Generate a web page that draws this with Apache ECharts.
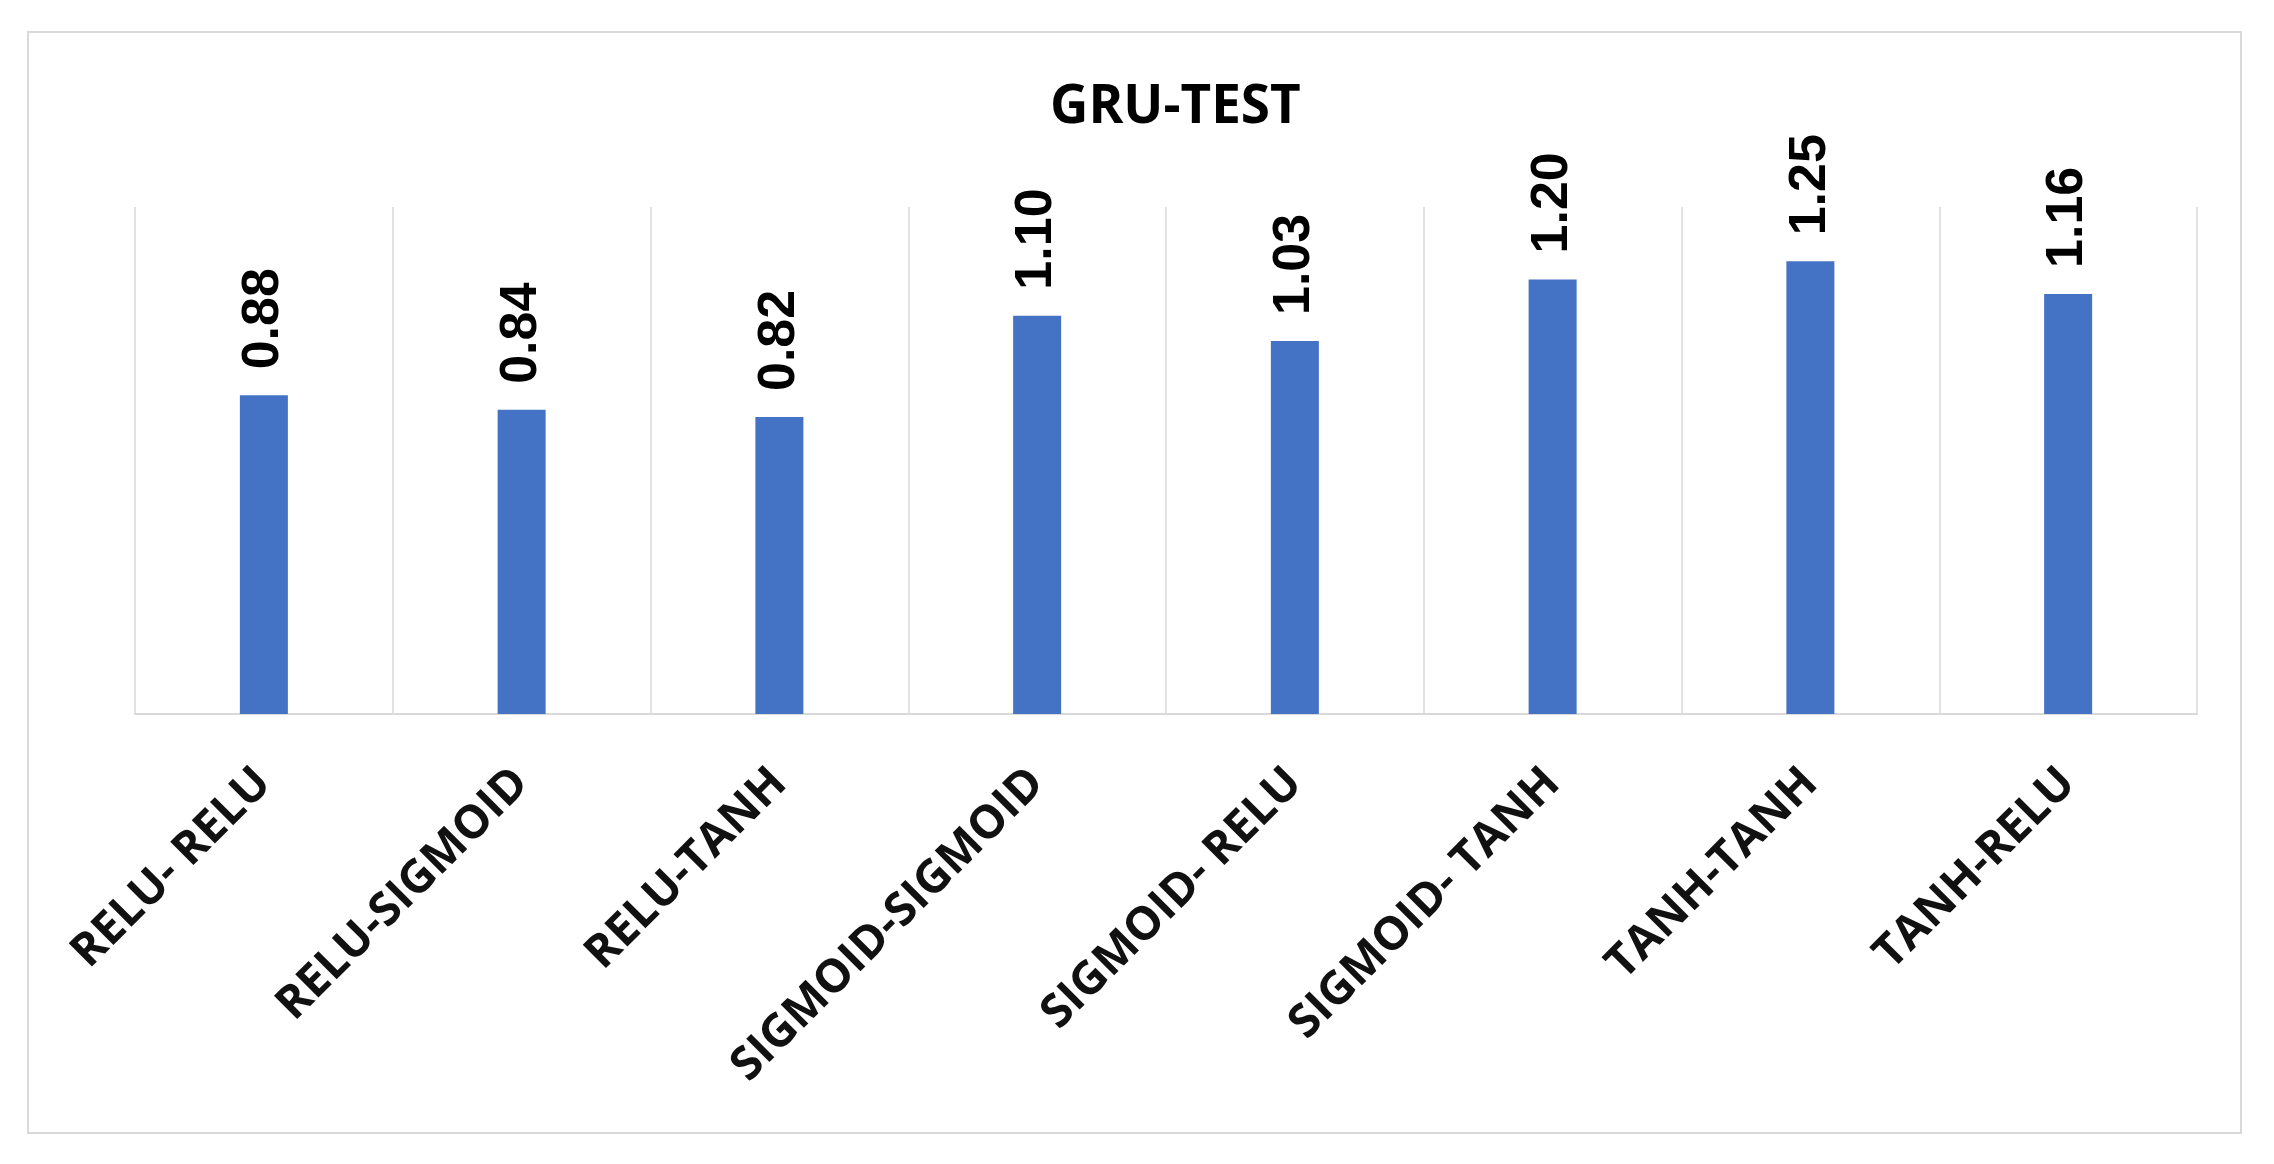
<!DOCTYPE html>
<html>
<head>
<meta charset="utf-8">
<script src="https://cdn.jsdelivr.net/npm/echarts@6/dist/echarts.min.js"></script>
<style>
html,body{margin:0;padding:0;background:#fff;}
#chart{width:2274px;height:1164px;}
</style>
</head>
<body>
<div id="chart"></div>
<script>
const categories = ['RELU- RELU', 'RELU-SIGMOID', 'RELU-TANH', 'SIGMOID-SIGMOID', 'SIGMOID- RELU', 'SIGMOID- TANH', 'TANH-TANH', 'TANH-RELU'];
const values = [0.88, 0.84, 0.82, 1.10, 1.03, 1.20, 1.25, 1.16];
const titleText = 'GRU-TEST';

const chart = echarts.init(document.getElementById('chart'));
chart.setOption({
  backgroundColor: '#ffffff',
  animation: false,
  title: {
    text: titleText,
    left: 1050,
    top: 81,
    padding: 0,
    textStyle: { fontFamily: 'Open Sans', fontWeight: 'bold', fontSize: 53, color: '#000000' }
  },
  graphic: [{
    type: 'rect',
    shape: { x: 28, y: 32, width: 2213, height: 1101 },
    style: { fill: 'none', stroke: '#d9d9d9', lineWidth: 2 },
    silent: true
  }],
  grid: { left: 135, right: 77, top: 207, bottom: 450 },
  xAxis: {
    type: 'category',
    data: categories,
    axisLine: { show: true, lineStyle: { color: '#d9d9d9', width: 2 } },
    axisTick: { show: false },
    splitLine: { show: true, lineStyle: { color: '#d9d9d9', width: 1.5 } },
    axisLabel: {
      interval: 0,
      rotate: 45,
      margin: 62,
      fontFamily: 'Open Sans',
      fontWeight: 'bold',
      fontSize: 46,
      color: '#111111'
    }
  },
  yAxis: {
    type: 'value',
    min: 0,
    max: 1.4,
    show: false,
    splitLine: { show: false }
  },
  series: [{
    type: 'bar',
    data: values,
    barWidth: 48,
    itemStyle: { color: '#4472C4' },
    label: {
      show: true,
      position: 'top',
      rotate: 90,
      align: 'left',
      verticalAlign: 'middle',
      distance: 26,
      formatter: p => p.value.toFixed(2),
      fontFamily: 'Liberation Sans',
      fontWeight: 'bold',
      fontSize: 52,
      color: '#000000'
    }
  }]
});
</script>
</body>
</html>
